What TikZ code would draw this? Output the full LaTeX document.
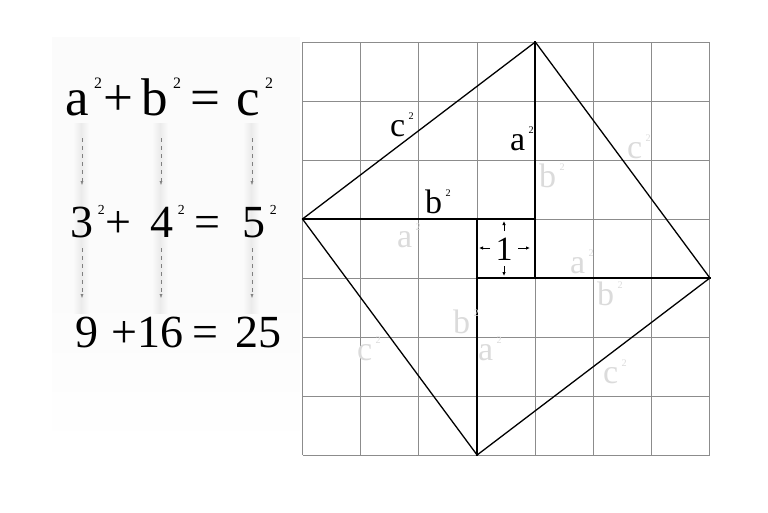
\documentclass[tikz,border=0pt]{standalone}
\usepackage{fontspec}
\setmainfont{Liberation Serif}
\usetikzlibrary{arrows.meta, calc}
\definecolor{gridgray}{rgb}{0.55,0.55,0.55}
\definecolor{palegray}{rgb}{0.86,0.86,0.86}
\definecolor{flowgray}{rgb}{0.5,0.5,0.5}
\newcommand{\sqr}[1]{#1\kern.1em\raisebox{.5em}{\scalebox{.3}{2}}}

\begin{document}
\begin{tikzpicture}[x=1pt, y=-1pt]
\useasboundingbox (0,0) rectangle (768,512);
\tikzstyle{eqa}=[font=\fontsize{53}{57}\selectfont, inner sep=0pt, anchor=base west]
\tikzstyle{opa}=[font=\fontsize{53}{57}\selectfont, inner sep=0pt, anchor=base]
\tikzstyle{eq}=[font=\fontsize{46}{50}\selectfont, inner sep=0pt, anchor=base west]
\tikzstyle{op}=[font=\fontsize{46}{50}\selectfont, inner sep=0pt, anchor=base]
\tikzstyle{lab}=[font=\fontsize{34}{36}\selectfont, inner sep=0pt, anchor=base west]
\tikzstyle{labg}=[lab, text=palegray]
\tikzstyle{flow}=[draw=flowgray, dash pattern=on 4pt off 4pt, -{Latex[length=4pt, width=3pt]}]
\tikzstyle{gridline}=[draw=gridgray, line width=0.9pt]
\tikzstyle{leg}=[line width=2pt, line cap=rect]
\tikzstyle{hyp}=[line width=1.3pt, line join=miter]
\tikzstyle{tick}=[line width=0.8pt, -{Latex[length=4pt, width=3.5pt]}]
%%
%% left panel
\fill[black!1.5] (52,37) rectangle (300,300);
\shade[top color=black!1.5, bottom color=white] (52,300) rectangle (300,450);
\foreach \x in {81,160,251}
  \shade[left color=black!1.5, right color=black!1.5, middle color=black!8] (\x-8,123) rectangle (\x+8,313);

\node (e11) at (65,115) [eqa] {\sqr{a}};
\node (e12) at (118,115) [opa] {+};
\node (e13) at (141,115) [eqa] {\sqr{b}};
\node (e14) at (205,115) [opa] {=};
\node (e15) at (236,115) [eqa] {\sqr{c}};

\node (e21) at (70,237) [eq] {\sqr{3}};
\node (e22) at (118,237) [op] {+};
\node (e23) at (150,237) [eq] {\sqr{4}};
\node (e24) at (207,237) [op] {=};
\node (e25) at (242,237) [eq] {\sqr{5}};

\node (e31) at (75,347) [eq] {9};
\node (e32) at (124,347) [op] {+};
\node (e33) at (137,347) [eq] {16};
\node (e34) at (205,347) [op] {=};
\node (e35) at (235,347) [eq] {25};

\coordinate (a1) at (82,138);  \coordinate (a2) at (82,185);
\coordinate (b1) at (161,138); \coordinate (b2) at (161,185);
\coordinate (c1) at (252,138); \coordinate (c2) at (252,185);
\coordinate (a3) at (82,248);  \coordinate (a4) at (82,298);
\coordinate (b3) at (161,248); \coordinate (b4) at (161,298);
\coordinate (c3) at (252,248); \coordinate (c4) at (252,298);
\draw [flow] (a1) -- (a2);
\draw [flow] (b1) -- (b2);
\draw [flow] (c1) -- (c2);
\draw [flow] (a3) -- (a4);
\draw [flow] (b3) -- (b4);
\draw [flow] (c3) -- (c4);

%% grid and squares
\begin{scope}[shift={(302.5,42)}, x=58.2pt, y=-59pt]
\foreach \i in {0,...,7} {
  \draw [gridline] (\i,0) -- (\i,7);
  \draw [gridline] (0,\i) -- (7,\i);
}
\coordinate (top) at (4,0);
\coordinate (left) at (0,3);
\coordinate (right) at (7,4);
\coordinate (bot) at (3,7);
\coordinate (q1) at (4,3);
\coordinate (q2) at (4,4);
\coordinate (q3) at (3,4);
\coordinate (q4) at (3,3);

\draw [hyp] (top) -- (right) -- (bot) -- (left) -- cycle;
\draw [leg] (left) -- (q1);
\draw [leg] (top) -- (q2);
\draw [leg] (right) -- (q3);
\draw [leg] (bot) -- (q4);
\draw [leg] (q4) rectangle (q2);
\end{scope}

\node (one) at (504,249) [font=\fontsize{34}{36}\selectfont, inner sep=0pt] {1};
\coordinate (u1) at (504,231); \coordinate (u2) at (504,221);
\coordinate (d1) at (504,266); \coordinate (d2) at (504,276);
\coordinate (w1) at (490,248); \coordinate (w2) at (479,248);
\coordinate (r1) at (518,248); \coordinate (r2) at (530,248);
\draw [tick] (u1) -- (u2);
\draw [tick] (d1) -- (d2);
\draw [tick] (w1) -- (w2);
\draw [tick] (r1) -- (r2);

%% labels
\node (lc) at (390,136) [lab] {\sqr{c}};
\node (la) at (510,150) [lab] {\sqr{a}};
\node (lb) at (425,213) [lab] {\sqr{b}};

\node (g1) at (627,158) [labg] {\sqr{c}};
\node (g2) at (539,187) [labg] {\sqr{b}};
\node (g3) at (397,247) [labg] {\sqr{a}};
\node (g4) at (570,273) [labg] {\sqr{a}};
\node (g5) at (597,305) [labg] {\sqr{b}};
\node (g6) at (453,333) [labg] {\sqr{b}};
\node (g7) at (478,360) [labg] {\sqr{a}};
\node (g8) at (357,360) [labg] {\sqr{c}};
\node (g9) at (603,383) [labg] {\sqr{c}};
\end{tikzpicture}
\end{document}
